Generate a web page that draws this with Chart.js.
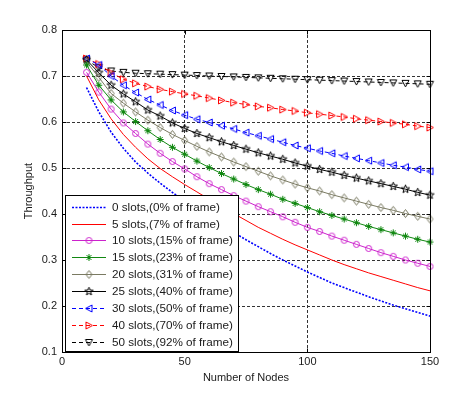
<!DOCTYPE html>
<html>
<head>
<meta charset="utf-8">
<script src="https://cdn.jsdelivr.net/npm/chart.js@4.4.0/dist/chart.umd.min.js"></script>
<style>
  html, body { margin: 0; padding: 0; background: #fff; }
  canvas { display: block; }
</style>
</head>
<body>
<canvas id="throughput" width="474" height="397"></canvas>
<script>
var nodes = [10, 15, 20, 25, 30, 35, 40, 45, 50, 55, 60, 65, 70, 75, 80, 85, 90, 95, 100,
  105, 110, 115, 120, 125, 130, 135, 140, 145, 150];

var slots0 = [0.675, 0.622, 0.578, 0.543, 0.513, 0.489, 0.467, 0.447, 0.428, 0.410, 0.393, 0.376, 0.360, 0.344, 0.329,
  0.314, 0.300, 0.287, 0.274, 0.262, 0.250, 0.240, 0.230, 0.220, 0.211, 0.202, 0.194, 0.186, 0.178];
var slots5 = [0.700, 0.648, 0.607, 0.573, 0.545, 0.520, 0.499, 0.481, 0.464, 0.448, 0.432, 0.416, 0.401, 0.386, 0.371,
  0.358, 0.345, 0.333, 0.322, 0.311, 0.300, 0.290, 0.281, 0.272, 0.264, 0.256, 0.248, 0.240, 0.233];
var slots10 = [0.708, 0.665, 0.628, 0.598, 0.575, 0.552, 0.532, 0.514, 0.498, 0.481, 0.466, 0.453, 0.440, 0.428, 0.416,
  0.405, 0.394, 0.382, 0.371, 0.362, 0.352, 0.343, 0.334, 0.325, 0.316, 0.308, 0.300, 0.293, 0.286];
var slots15 = [0.724, 0.680, 0.648, 0.622, 0.601, 0.581, 0.562, 0.545, 0.530, 0.515, 0.501, 0.488, 0.476, 0.464, 0.453,
  0.443, 0.432, 0.423, 0.414, 0.405, 0.397, 0.389, 0.381, 0.373, 0.366, 0.359, 0.352, 0.345, 0.339];
var slots20 = [0.731, 0.697, 0.662, 0.641, 0.622, 0.604, 0.588, 0.573, 0.560, 0.547, 0.535, 0.524, 0.513, 0.503, 0.493,
  0.483, 0.474, 0.465, 0.457, 0.450, 0.442, 0.435, 0.428, 0.421, 0.414, 0.408, 0.401, 0.395, 0.389];
var slots25 = [0.735, 0.707, 0.680, 0.661, 0.644, 0.626, 0.613, 0.598, 0.586, 0.575, 0.566, 0.557, 0.549, 0.541, 0.533,
  0.526, 0.519, 0.511, 0.504, 0.497, 0.491, 0.484, 0.478, 0.472, 0.466, 0.460, 0.454, 0.447, 0.441];
var slots30 = [0.738, 0.724, 0.700, 0.680, 0.664, 0.649, 0.637, 0.625, 0.615, 0.606, 0.599, 0.592, 0.585, 0.577, 0.570,
  0.563, 0.556, 0.549, 0.543, 0.537, 0.532, 0.526, 0.521, 0.516, 0.511, 0.506, 0.502, 0.497, 0.493];
var slots40 = [0.738, 0.726, 0.707, 0.693, 0.684, 0.677, 0.671, 0.666, 0.661, 0.657, 0.652, 0.647, 0.642, 0.638, 0.634,
  0.631, 0.627, 0.624, 0.620, 0.617, 0.614, 0.611, 0.607, 0.604, 0.601, 0.598, 0.595, 0.591, 0.588];
var slots50 = [0.735, 0.718, 0.711, 0.708, 0.706, 0.705, 0.704, 0.703, 0.702, 0.701, 0.700, 0.699, 0.698, 0.697, 0.696,
  0.695, 0.694, 0.693, 0.692, 0.691, 0.690, 0.689, 0.688, 0.687, 0.686, 0.685, 0.684, 0.683, 0.682];

var labels = ['0 slots,(0% of frame)', '5 slots,(7% of frame)', '10 slots,(15% of frame)', '15 slots,(23% of frame)',
  '20 slots,(31% of frame)', '25 slots,(40% of frame)', '30 slots,(50% of frame)', '40 slots,(70% of frame)',
  '50 slots,(92% of frame)'];
var xTicks = [0, 50, 100, 150];
var yTicks = [0.1, 0.2, 0.3, 0.4, 0.5, 0.6, 0.7, 0.8];

// hollow matlab-like markers drawn on small canvases
function makeMarker(kind, color) {
  var c = document.createElement('canvas');
  c.width = 13; c.height = 13;
  var g = c.getContext('2d');
  var cx = 6.5, cy = 6.5;
  g.strokeStyle = color;
  g.lineWidth = 1;
  g.beginPath();
  if (kind === 'circle') {
    g.arc(cx, cy, 3, 0, Math.PI * 2);
  } else if (kind === 'asterisk') {
    g.moveTo(cx, cy - 3.5); g.lineTo(cx, cy + 3.5);
    g.moveTo(cx - 3.5, cy); g.lineTo(cx + 3.5, cy);
    g.moveTo(cx - 2.5, cy - 2.5); g.lineTo(cx + 2.5, cy + 2.5);
    g.moveTo(cx - 2.5, cy + 2.5); g.lineTo(cx + 2.5, cy - 2.5);
  } else if (kind === 'diamond') {
    g.moveTo(cx, cy - 4); g.lineTo(cx + 3, cy); g.lineTo(cx, cy + 4); g.lineTo(cx - 3, cy); g.closePath();
  } else if (kind === 'pentagram') {
    for (var i = 0; i < 10; i++) {
      var r = i % 2 === 0 ? 4.3 : 1.8;
      var a = -Math.PI / 2 + i * Math.PI / 5;
      if (i === 0) g.moveTo(cx + r * Math.cos(a), cy + r * Math.sin(a));
      else g.lineTo(cx + r * Math.cos(a), cy + r * Math.sin(a));
    }
    g.closePath();
  } else if (kind === 'left') {
    g.moveTo(cx - 3.5, cy); g.lineTo(cx + 3, cy - 3.5); g.lineTo(cx + 3, cy + 3.5); g.closePath();
  } else if (kind === 'right') {
    g.moveTo(cx + 3.5, cy); g.lineTo(cx - 3, cy - 3.5); g.lineTo(cx - 3, cy + 3.5); g.closePath();
  } else if (kind === 'down') {
    g.moveTo(cx - 3.5, cy - 3); g.lineTo(cx + 3.5, cy - 3); g.lineTo(cx, cy + 3.5); g.closePath();
  }
  g.stroke();
  return c;
}

function series(label, values, color, dash, width, marker) {
  return {
    label: label,
    data: nodes.map(function (n, i) { return { x: n, y: values[i] }; }),
    borderColor: color,
    borderWidth: width,
    borderDash: dash,
    backgroundColor: color,
    pointStyle: marker ? makeMarker(marker, color) : false,
    pointRadius: marker ? 4 : 0,
    tension: 0,
    clip: false
  };
}

var frameAndLegend = {
  id: 'frameAndLegend',
  afterDraw: function (chart) {
    var ctx = chart.ctx, a = chart.chartArea;
    var xs = chart.scales.x, ys = chart.scales.y;
    var L = Math.round(a.left) + 0.5, R = Math.round(a.right) + 0.5;
    var T = Math.round(a.top) + 0.5, B = Math.round(a.bottom) + 0.5;
    ctx.save();
    ctx.strokeStyle = '#000';
    ctx.lineWidth = 1;
    ctx.setLineDash([]);
    ctx.beginPath();
    yTicks.forEach(function (v) {
      var y = Math.round(ys.getPixelForValue(v)) + 0.5;
      ctx.moveTo(L, y); ctx.lineTo(L + 4, y);
      ctx.moveTo(R, y); ctx.lineTo(R - 4, y);
    });
    xTicks.forEach(function (v) {
      var x = Math.round(xs.getPixelForValue(v)) + 0.5;
      ctx.moveTo(x, B); ctx.lineTo(x, B - 4);
      ctx.moveTo(x, T); ctx.lineTo(x, T + 4);
    });
    ctx.stroke();
    ctx.strokeRect(L, T, R - L, B - T);

    // legend box, lower left
    var bx = 65.5, by = 195.5, bw = 173, bh = 156;
    ctx.fillStyle = '#fff';
    ctx.fillRect(bx, by, bw, bh);
    ctx.strokeRect(bx, by, bw, bh);
    ctx.font = '11.7px "Liberation Sans", Arial, sans-serif';
    ctx.textBaseline = 'middle';
    chart.data.datasets.forEach(function (ds, i) {
      var y = Math.round(206.7 + i * 16.85) + 0.5;
      ctx.strokeStyle = ds.borderColor;
      ctx.lineWidth = ds.borderWidth;
      ctx.setLineDash(ds.borderDash);
      ctx.beginPath();
      ctx.moveTo(72, y); ctx.lineTo(106, y);
      ctx.stroke();
      ctx.setLineDash([]);
      if (ds.pointStyle) ctx.drawImage(ds.pointStyle, 89 - 6.5, y - 6.5);
      ctx.fillStyle = '#1a1a1a';
      ctx.fillText(ds.label, 112, y);
    });
    ctx.restore();
  }
};

document.addEventListener('DOMContentLoaded', function () {
  Chart.defaults.font.family = '"Liberation Sans", Arial, sans-serif';
  Chart.defaults.font.size = 11;
  Chart.defaults.color = '#1a1a1a';

  var ctx = document.getElementById('throughput').getContext('2d');
  new Chart(ctx, {
    type: 'line',
    data: {
      datasets: [
        series(labels[0], slots0, '#0000ff', [2, 1.5], 1.6, null),
        series(labels[1], slots5, '#ff0000', [], 1, null),
        series(labels[2], slots10, '#cc22cc', [], 1, 'circle'),
        series(labels[3], slots15, '#118811', [], 1, 'asterisk'),
        series(labels[4], slots20, '#7a7a62', [], 1, 'diamond'),
        series(labels[5], slots25, '#000000', [], 1, 'pentagram'),
        series(labels[6], slots30, '#0000ff', [4, 3], 1, 'left'),
        series(labels[7], slots40, '#ff0000', [4, 3], 1, 'right'),
        series(labels[8], slots50, '#000000', [4, 3], 1, 'down')
      ]
    },
    options: {
      responsive: false,
      animation: false,
      devicePixelRatio: 1,
      layout: { padding: { top: 30, right: 44, left: 0, bottom: 0 } },
      plugins: { legend: { display: false }, tooltip: { enabled: false } },
      scales: {
        x: {
          type: 'linear',
          min: 0,
          max: 150,
          afterBuildTicks: function (s) { s.ticks = xTicks.map(function (v) { return { value: v }; }); },
          afterFit: function (s) { s.height = 45; },
          ticks: { padding: 3, maxRotation: 0 },
          grid: { color: '#333', lineWidth: 1, drawTicks: false },
          border: { display: false, dash: [3, 2] },
          title: { display: true, text: 'Number of Nodes', padding: { top: 0, bottom: 12 } }
        },
        y: {
          min: 0.1,
          max: 0.8,
          afterBuildTicks: function (s) { s.ticks = yTicks.map(function (v) { return { value: v }; }); },
          afterFit: function (s) { s.width = 62; },
          ticks: { padding: 5, callback: function (v) { return v.toFixed(1); } },
          grid: { color: '#333', lineWidth: 1, drawTicks: false },
          border: { display: false, dash: [3, 2] },
          title: { display: true, text: 'Throughput', padding: { top: 22, bottom: 0 } }
        }
      }
    },
    plugins: [frameAndLegend]
  });
});
</script>
</body>
</html>
